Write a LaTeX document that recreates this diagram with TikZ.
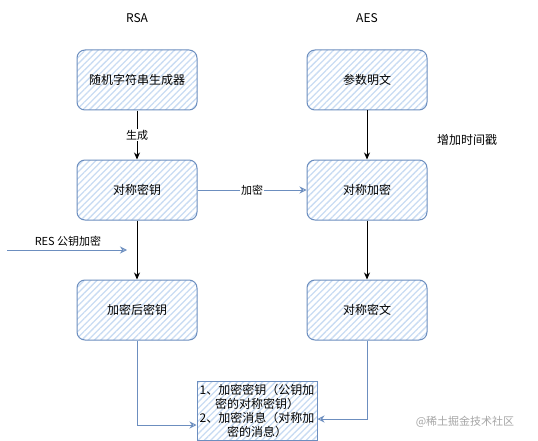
\documentclass[tikz,border=0pt]{standalone}
\usepackage{fontspec}
\setmainfont{Noto Sans CJK SC}
\usetikzlibrary{arrows.meta,patterns.meta}
\definecolor{bstroke}{HTML}{6C8EBF}
\definecolor{bfill}{HTML}{C9DCF3}
\begin{document}
\begin{tikzpicture}[x=1pt,y=-1pt,
  boxbase/.style={draw=bstroke, line width=1pt,
    pattern={Lines[angle=45,distance=4.5pt,line width=1.3pt]}, pattern color=bfill,
    font=\fontsize{12}{14}\selectfont, inner sep=2pt},
  rbox/.style={boxbase, rounded corners=8pt, minimum width=120pt, minimum height=60pt},
  sbox/.style={boxbase, minimum width=120pt, minimum height=59pt, align=center},
  plain/.style={font=\fontsize{12}{14}\selectfont},
  blackarrow/.style={draw=black, line width=0.9pt, -{Stealth[length=7pt,width=6pt]}},
  bluearrow/.style={draw=bstroke, line width=1pt, -{Stealth[open,length=7pt,width=7pt]}},
  lbl/.style={font=\fontsize{11}{13}\selectfont, fill=white, inner sep=1pt}
]
\useasboundingbox (0,0) rectangle (538,441);
\fill[white] (0,0) rectangle (538,441);

\node[plain] (rsa) at (137,18) {RSA};
\node[plain] (aes) at (367,18) {AES};

\node[rbox] (gen) at (137,80) {随机字符串生成器};
\node[rbox] (ptext) at (367,80) {参数明文};
\node[rbox] (symkey) at (137,190) {对称密钥};
\node[rbox] (symenc) at (367,190) {对称加密};
\node[rbox] (enckey) at (137,310) {加密后密钥};
\node[rbox] (cipher) at (367,310) {对称密文};
\node[sbox] (out) at (257,410.5) {1、加密密钥（公钥加\\密的对称密钥）\\2、加密消息（对称加\\密的消息）};

\draw[blackarrow] (gen) -- node[lbl] {生成} (symkey);
\draw[blackarrow] (ptext) -- (symenc);
\draw[blackarrow] (symkey) -- (enckey);
\draw[blackarrow] (symenc) -- (cipher);
\node[plain] (stamp) at (467,140) {增加时间戳};

\draw[bluearrow] (symkey) -- node[lbl] {加密} (symenc);

\coordinate (resstart) at (7,250);
\coordinate (resend) at (127,250);
\draw[bluearrow] (resstart) -- (resend);
\node[font=\fontsize{11}{13}\selectfont] (reslbl) at (68,241) {RES 公钥加密};

\draw[bluearrow] (enckey.south) |- ([yshift=-14.5pt]out.west);
\draw[bluearrow] (cipher.south) |- ([yshift=-8.5pt]out.east);

\node[font=\fontsize{11}{13}\selectfont, text=black!35] (wm) at (465,422) {@稀土掘金技术社区};
\end{tikzpicture}
\end{document}
